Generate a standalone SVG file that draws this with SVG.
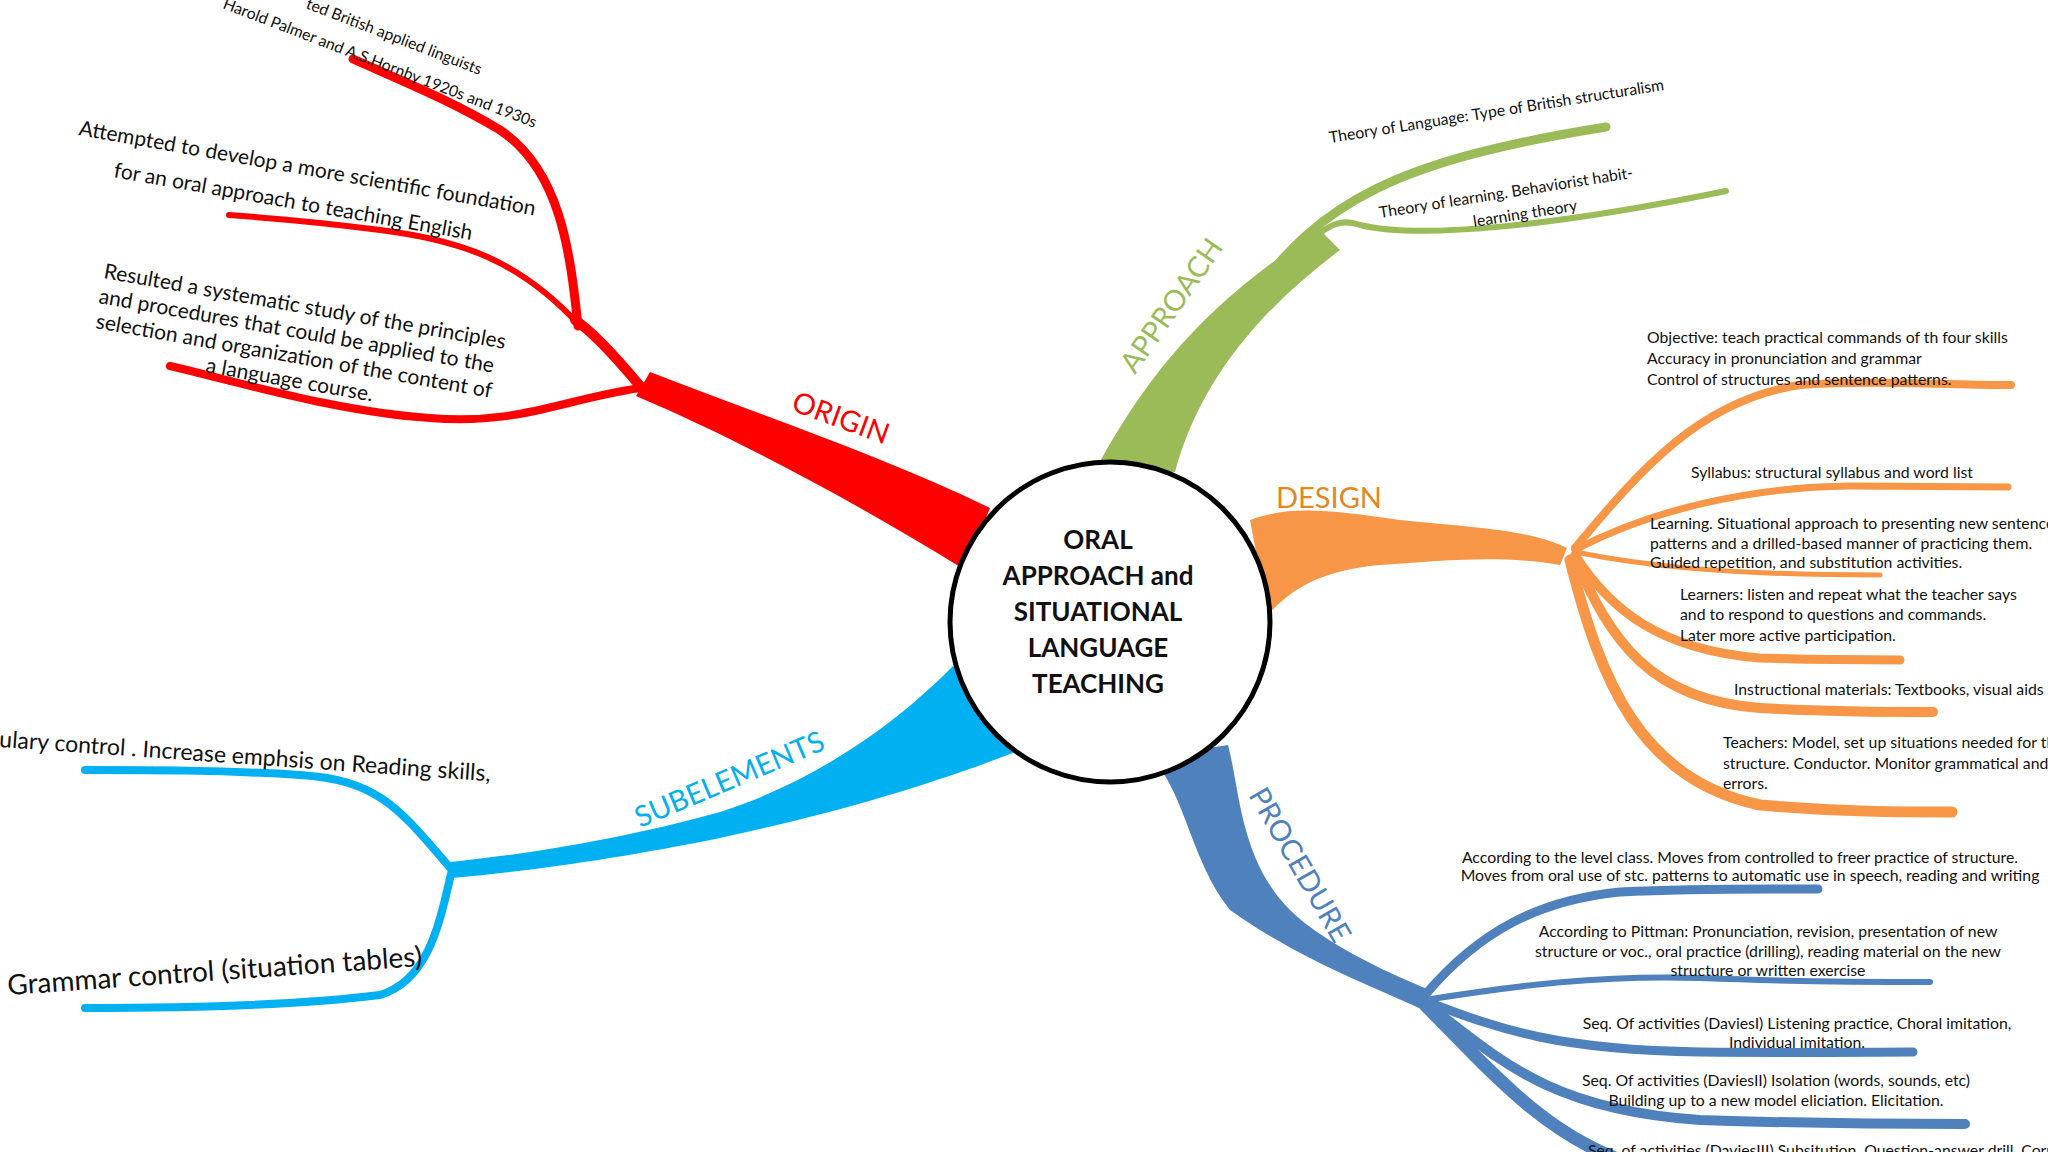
<svg xmlns="http://www.w3.org/2000/svg" width="2048" height="1152" viewBox="0 0 2048 1152">
<style>
text{font-family:Lato,"Liberation Sans",sans-serif;fill:#111}
.s{font-size:15.8px}
.m{font-size:21px}
.lbl{font-size:29px}
.r{fill:none;stroke:#FF0000;stroke-linecap:round}
.g{fill:none;stroke:#9BBB59;stroke-linecap:round}
.o{fill:none;stroke:#F79646;stroke-linecap:round}
.b{fill:none;stroke:#4F81BD;stroke-linecap:round}
.c{fill:none;stroke:#00B0F0;stroke-linecap:round}
.ct{text-anchor:middle}
</style>
<rect width="2048" height="1152" fill="#fff"/>
<g id="connectors">
<path d="M990,508 C880,455 760,415 650,372 L636,396 C740,440 860,505 965,570 Z" fill="#FF0000"/>
<path class="r" stroke-width="10" d="M640,386 C610,350 590,330 575,320"/>
<path class="r" stroke-width="9" d="M578,326 C570,250 560,170 500,130 C450,100 400,80 353,59"/>
<path class="r" stroke-width="6" d="M580,326 C520,260 460,240 380,230 C320,222 270,218 229,215"/>
<path class="r" stroke-width="8" d="M640,388 C560,400 520,425 430,418 C340,412 250,385 170,366"/>
<path d="M1097,467 C1150,370 1210,300 1320,230 L1340,250 C1260,310 1200,380 1175,472 Z" fill="#9BBB59"/>
<path class="g" stroke-width="9" d="M1250,300 C1320,200 1400,160 1606,127"/>
<path class="g" stroke-width="6" d="M1310,240 C1330,225 1340,218 1360,225 C1420,240 1560,225 1726,191"/>
<path d="M1250,520 C1290,505 1330,510 1400,520 C1480,528 1530,530 1567,548 L1560,565 C1500,555 1450,560 1380,565 C1320,570 1290,590 1268,615 Z" fill="#F79646"/>
<path class="o" stroke-width="8" d="M1575,548 C1640,470 1700,400 1800,385 C1870,380 1950,385 2011,385"/>
<path class="o" stroke-width="7" d="M1575,550 C1650,510 1750,487 1850,486 C1920,486 1970,487 2008,487"/>
<path class="o" stroke-width="5" d="M1575,552 C1640,565 1720,575 1880,575"/>
<path class="o" stroke-width="9" d="M1575,555 C1610,610 1660,650 1760,658 C1820,660 1870,660 1900,660"/>
<path class="o" stroke-width="10" d="M1575,558 C1610,640 1650,700 1760,708 C1830,712 1890,712 1933,712"/>
<path class="o" stroke-width="11" d="M1570,560 C1600,680 1640,780 1760,805 C1840,812 1900,812 1952,812"/>
<path d="M1150,757 C1185,790 1190,860 1230,910 C1300,960 1370,985 1423,1010 L1430,990 C1380,970 1320,940 1290,910 C1240,860 1240,790 1228,745 Z" fill="#4F81BD"/>
<path class="b" stroke-width="9" d="M1425,995 C1480,930 1540,900 1620,892 C1700,888 1760,889 1818,889"/>
<path class="b" stroke-width="6" d="M1425,1000 C1520,985 1600,975 1700,978 C1800,982 1880,982 1930,982"/>
<path class="b" stroke-width="9" d="M1428,1002 C1500,1030 1560,1050 1700,1052 C1800,1053 1870,1052 1913,1052"/>
<path class="b" stroke-width="10" d="M1428,1005 C1500,1060 1550,1110 1700,1120 C1820,1124 1900,1124 1965,1124"/>
<path class="b" stroke-width="13" d="M1425,1005 C1490,1070 1540,1130 1620,1160"/>
<path d="M953,666 C900,720 820,780 720,812 C620,840 520,855 450,862 L452,878 C540,870 620,858 720,838 C840,812 930,785 1018,751 Z" fill="#00B0F0"/>
<path class="c" stroke-width="8" d="M452,870 C400,810 380,780 300,775 C220,770 150,770 85,770"/>
<path class="c" stroke-width="8" d="M452,870 C440,920 430,980 380,995 C300,1005 180,1008 85,1008"/>
</g>
<g id="center">
<circle cx="1110" cy="622" r="160" fill="#fff" stroke="#000" stroke-width="5"/>
<text x="1098" y="549" class="ct" font-size="26" font-weight="bold">ORAL</text>
<text x="1098" y="585" class="ct" font-size="26" font-weight="bold">APPROACH and</text>
<text x="1098" y="621" class="ct" font-size="26" font-weight="bold">SITUATIONAL</text>
<text x="1098" y="657" class="ct" font-size="26" font-weight="bold">LANGUAGE</text>
<text x="1098" y="693" class="ct" font-size="26" font-weight="bold">TEACHING</text>
</g>
<g id="origin">
<text class="lbl" style="fill:#FF0000" transform="translate(790,410) rotate(20)">ORIGIN</text>
<text class="s" transform="translate(305,8) rotate(21)">ted  British applied linguists</text>
<text class="s" transform="translate(222,8) rotate(21)">Harold Palmer and A.S.Hornby 1920s and 1930s</text>
<text class="m" transform="translate(78,135) rotate(10)">Attempted to develop a more scientific foundation</text>
<text class="m" transform="translate(113,177) rotate(10)">for an oral approach  to teaching English</text>
<text class="m" transform="translate(103,278) rotate(10)">Resulted a systematic study of the principles</text>
<text class="m" transform="translate(98,303) rotate(10)">and procedures that could be applied to the</text>
<text class="m" transform="translate(95,328) rotate(10)">selection and organization of the content of</text>
<text class="m" transform="translate(205,372) rotate(10)">a language course.</text>
</g>
<g id="approach">
<text class="lbl" style="fill:#9BBB59" transform="translate(1135,375) rotate(-55)">APPROACH</text>
<text class="s" transform="translate(1330,143) rotate(-9)">Theory of Language: Type of British structuralism</text>
<text class="s" transform="translate(1380,218) rotate(-9)">Theory of learning.  Behaviorist habit-</text>
<text class="s" transform="translate(1474,227) rotate(-9)">learning theory</text>
</g>
<g id="design">
<text class="lbl" style="fill:#E3871F" x="1276" y="508">DESIGN</text>
<text class="s" x="1647" y="343">Objective: teach practical commands of th four skills</text>
<text class="s" x="1647" y="364">Accuracy in pronunciation and grammar</text>
<text class="s" x="1647" y="385">Control of structures and sentence patterns.</text>
<text class="s" x="1691" y="478">Syllabus: structural syllabus and word list</text>
<text class="s" x="1650" y="529">Learning.  Situational approach to presenting new sentence</text>
<text class="s" x="1650" y="549">patterns and a drilled-based manner of practicing them.</text>
<text class="s" x="1650" y="568">Guided repetition, and substitution activities.</text>
<text class="s" x="1680" y="600">Learners: listen and repeat what the teacher says</text>
<text class="s" x="1680" y="620">and to respond to questions and commands.</text>
<text class="s" x="1680" y="641">Later more active participation.</text>
<text class="s" x="1734" y="695">Instructional materials: Textbooks, visual aids</text>
<text class="s" x="1723" y="748">Teachers: Model, set up situations needed for the</text>
<text class="s" x="1723" y="769">structure.  Conductor.  Monitor grammatical and</text>
<text class="s" x="1723" y="789">errors.</text>
</g>
<g id="procedure">
<text class="lbl" style="fill:#4F81BD" transform="translate(1248,795) rotate(60)">PROCEDURE</text>
<text class="s ct" x="1740" y="863">According to the level class.  Moves from controlled to freer practice of structure.</text>
<text class="s ct" x="1750" y="881">Moves from oral use of stc. patterns to automatic use in speech, reading and writing</text>
<text class="s ct" x="1768" y="937">According to Pittman: Pronunciation, revision, presentation of new</text>
<text class="s ct" x="1768" y="957">structure or voc., oral practice (drilling), reading material on the new</text>
<text class="s ct" x="1768" y="976">structure or written exercise</text>
<text class="s ct" x="1797" y="1029">Seq. Of activities (DaviesI) Listening practice, Choral imitation,</text>
<text class="s ct" x="1797" y="1048">Individual imitation.</text>
<text class="s ct" x="1776" y="1086">Seq. Of activities (DaviesII) Isolation (words, sounds, etc)</text>
<text class="s ct" x="1776" y="1106">Building up to a new model eliciation.  Elicitation.</text>
<text class="s" x="1588" y="1156">Seq. of activities (DaviesIII) Subsitution. Question-answer drill. Correction</text>
</g>
<g id="subelements">
<text class="lbl" style="fill:#00B0F0" transform="translate(640,828) rotate(-23)">SUBELEMENTS</text>
<text font-size="23" transform="translate(-14,746) rotate(4)">bulary control .  Increase emphsis on Reading skills,</text>
<text x="8" y="995" font-size="28" transform="rotate(-4 8 995)">Grammar control (situation tables)</text>
</g>
</svg>
